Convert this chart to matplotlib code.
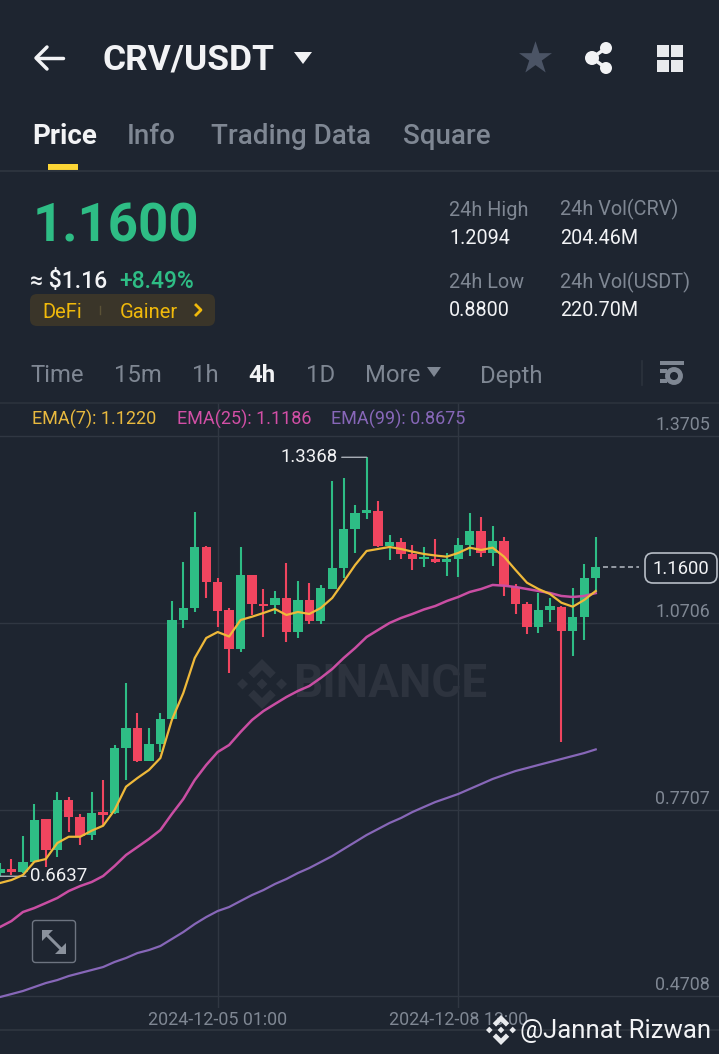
import matplotlib
matplotlib.use('Agg')
import matplotlib.pyplot as plt
from matplotlib.patches import Polygon, Rectangle, FancyBboxPatch, Circle

plt.rcParams['font.family'] = ['Roboto', 'DejaVu Sans']

# candles, 4h each
open_ = [0.6689, 0.6749, 0.6701, 0.6871, 0.7552, 0.7059, 0.7862, 0.7594, 0.7300, 0.7670,
         0.7658, 0.8703, 0.9019, 0.8489, 0.8762, 0.9164, 1.0754, 1.0952, 1.1932, 1.1370,
         1.0915, 1.0283, 1.1477, 1.1000, 1.0995, 1.1108, 1.0561, 1.1076, 1.0738, 1.1257,
         1.1590, 1.2216, 1.2478, 1.2505, 1.1943, 1.2007, 1.1815, 1.1734, 1.1734, 1.1691,
         1.1734, 1.1959, 1.2184, 1.1831, 1.2028, 1.1289, 1.1011, 1.0642, 1.0920, 1.0968,
         1.0582, 1.0802, 1.1429]
close = [0.6754, 0.6706, 0.6871, 0.7541, 0.7059, 0.7862, 0.7594, 0.7289, 0.7658, 0.7626,
         0.8703, 0.9019, 0.8489, 0.8762, 0.9164, 1.0754, 1.0952, 1.1932, 1.1370, 1.0904,
         1.0283, 1.1477, 1.1011, 1.0979, 1.1108, 1.0561, 1.1076, 1.0738, 1.1268, 1.1590,
         1.2216, 1.2473, 1.2510, 1.1948, 1.2007, 1.1815, 1.1734, 1.1766, 1.1681, 1.1734,
         1.1959, 1.2184, 1.1831, 1.2023, 1.1317, 1.1011, 1.0647, 1.0920, 1.0979, 1.0577,
         1.0802, 1.1429, 1.1600]
high = [0.6850, 0.6914, 0.7284, 0.7798, 0.7557, 0.7991, 0.7911, 0.7637, 0.7991, 0.8184,
        0.8746, 0.9742, 0.9260, 0.9019, 0.9260, 1.1059, 1.1691, 1.2489, 1.1943, 1.1429,
        1.0947, 1.1927, 1.1477, 1.1252, 1.1225, 1.1675, 1.1386, 1.1349, 1.1321, 1.2992,
        1.3040, 1.2602, 1.3368, 1.2671, 1.2125, 1.2072, 1.1959, 1.1927, 1.2048, 1.1835,
        1.2072, 1.2473, 1.2409, 1.2264, 1.2088, 1.1333, 1.1048, 1.1193, 1.1108, 1.0979,
        1.1268, 1.1654, 1.2088]
low = [0.6637, 0.6657, 0.6689, 0.6866, 0.6786, 0.6947, 0.7348, 0.7139, 0.7220, 0.7461,
       0.7637, 0.8184, 0.8473, 0.8489, 0.8633, 0.9164, 1.0626, 1.0883, 1.1108, 1.0642,
       0.9903, 1.0240, 1.0835, 1.0481, 1.0851, 1.0406, 1.0465, 1.0690, 1.0690, 1.1257,
       1.1429, 1.1831, 1.2377, 1.1927, 1.1718, 1.1734, 1.1557, 1.1611, 1.1662, 1.1466,
       1.1445, 1.1782, 1.1766, 1.1627, 1.1145, 1.0851, 1.0529, 1.0545, 1.0722, 0.8800,
       1.0181, 1.0433, 1.1209]

ema7 = [0.6529, 0.6577, 0.6657, 0.6871, 0.6914, 0.7171, 0.7272, 0.7272, 0.7369, 0.7449,
        0.7701, 0.8076, 0.8216, 0.8344, 0.8537, 0.9148, 0.9581, 1.0144, 1.0465, 1.0561,
        1.0489, 1.0754, 1.0807, 1.0867, 1.0931, 1.0835, 1.0883, 1.0851, 1.0947, 1.1108,
        1.1370, 1.1638, 1.1863, 1.1895, 1.1927, 1.1895, 1.1852, 1.1815, 1.1790, 1.1771,
        1.1831, 1.1916, 1.1879, 1.1916, 1.1771, 1.1558, 1.1353, 1.1252, 1.1172, 1.1032,
        1.0968, 1.1076, 1.1220]
ema25 = [0.5822, 0.5918, 0.6063, 0.6127, 0.6207, 0.6288, 0.6400, 0.6480, 0.6545, 0.6641,
         0.6802, 0.6979, 0.7107, 0.7236, 0.7380, 0.7637, 0.7878, 0.8184, 0.8425, 0.8633,
         0.8746, 0.8955, 0.9148, 0.9292, 0.9405, 0.9517, 0.9614, 0.9694, 0.9823, 0.9967,
         1.0144, 1.0304, 1.0481, 1.0594, 1.0706, 1.0786, 1.0851, 1.0923, 1.0979, 1.1059,
         1.1124, 1.1204, 1.1252, 1.1317, 1.1305, 1.1284, 1.1252, 1.1220, 1.1188, 1.1140,
         1.1124, 1.1140, 1.1186]
ema99 = [0.4697, 0.4745, 0.4794, 0.4858, 0.4922, 0.4970, 0.5035, 0.5083, 0.5131, 0.5179,
         0.5260, 0.5324, 0.5404, 0.5452, 0.5517, 0.5629, 0.5741, 0.5870, 0.5982, 0.6079,
         0.6143, 0.6240, 0.6336, 0.6416, 0.6513, 0.6593, 0.6689, 0.6770, 0.6866, 0.6962,
         0.7075, 0.7187, 0.7300, 0.7396, 0.7493, 0.7573, 0.7669, 0.7750, 0.7830, 0.7894,
         0.7959, 0.8039, 0.8119, 0.8200, 0.8264, 0.8328, 0.8376, 0.8425, 0.8473, 0.8521,
         0.8569, 0.8617, 0.8675]

price_ticks = [1.3705, 1.0706, 0.7707, 0.4708]
date_ticks = [19, 40]
date_labels = ['2024-12-05 01:00', '2024-12-08 13:00']

BG = '#1e2530'
GRID = '#303742'
LINE = '#2c333d'
GREEN = '#2ebd85'
RED = '#f0455f'
YELLOW = '#f0b90b'
GREY = '#7f8793'
WHITE = '#f2f3f5'

W, H = 719, 1054
fig = plt.figure(figsize=(W / 100, H / 100), dpi=100, facecolor=BG)

# chart part, pixel rows 403..1008 of the screenshot
ax = fig.add_axes([0, (H - 1008) / H, 1, (1008 - 403) / H], facecolor='none')
ax.set_xlim(0, W / 11.456)
ax.set_ylim(0.4521, 1.4240)
for s in ax.spines.values():
    s.set_visible(False)
ax.set_yticks(price_ticks)
ax.set_yticklabels([])
ax.set_xticks(date_ticks)
ax.set_xticklabels(date_labels, color=GREY, fontsize=12.9)
ax.tick_params(length=0)
ax.tick_params(axis='x', pad=2.5)
ax.grid(True, color=GRID, lw=1, zorder=0)
ax.set_axisbelow(True)

for t in price_ticks:
    ax.annotate(f'{t:.4f}', xy=(1, t), xycoords=('axes fraction', 'data'),
                xytext=(-9, 11), textcoords='offset pixels', ha='right', va='center',
                color=GREY, fontsize=12.9)

x = list(range(len(open_)))
colors = [GREEN if c >= o else RED for o, c in zip(open_, close)]
ax.vlines(x, low, high, colors=colors, lw=1.5, zorder=3)
heights = [max(abs(c - o), 0.004) for o, c in zip(open_, close)]
bottoms = [min(o, c) for o, c in zip(open_, close)]
ax.bar(x, heights, bottom=bottoms, width=0.82, color=colors, zorder=3)

ax.plot(x, ema99, color='#8767b8', lw=1.6, zorder=4)
ax.plot(x, ema25, color='#c94ea3', lw=1.8, zorder=4)
ax.plot(x, ema7, color='#efb93a', lw=1.6, zorder=5)

# high / low markers
ax.annotate('1.3368', xy=(32, high[32]), xytext=(-29, 0), textcoords='offset pixels',
            ha='right', va='center', color=WHITE, fontsize=13.4,
            arrowprops=dict(arrowstyle='-', color='#aab0b8', lw=1, shrinkA=1, shrinkB=0))
ax.annotate('0.6637', xy=(0, low[0]), xytext=(30, 0), textcoords='offset pixels',
            ha='left', va='center', color=WHITE, fontsize=13.4,
            arrowprops=dict(arrowstyle='-', color='#aab0b8', lw=1, shrinkA=1, shrinkB=0))

# current price
ax.plot([52.6, 55.8], [close[-1], close[-1]], color='#aab0b8', lw=1.2, ls=(0, (3, 2)), zorder=2)

# overlay in screenshot pixels for everything around the chart
ui = fig.add_axes([0, 0, 1, 1], facecolor='none', zorder=3)
ui.set_xlim(0, W)
ui.set_ylim(H, 0)
ui.axis('off')


def label(px, py, s, color=WHITE, size=13.5, weight='normal', ha='left'):
    # va=center sits a little high for digits and caps
    ui.text(px, py + 2, s, color=color, fontsize=size, fontweight=weight, ha=ha, va='center')


def logo(cx, cy, r, color, zorder=1):
    chevron = [(0, -1), (.55, -.45), (.33, -.23), (0, -.56), (-.33, -.23), (-.55, -.45)]
    ui.add_patch(Polygon([(cx + a * r, cy + b * r) for a, b in chevron], color=color, lw=0, zorder=zorder))
    ui.add_patch(Polygon([(cx + a * r, cy - b * r) for a, b in chevron], color=color, lw=0, zorder=zorder))
    for ox in (-.78, 0, .78):
        diamond = [(ox, -.22), (ox + .22, 0), (ox, .22), (ox - .22, 0)]
        ui.add_patch(Polygon([(cx + a * r, cy + b * r) for a, b in diamond], color=color, lw=0, zorder=zorder))


# header
ui.plot([37, 63], [58, 58], color=WHITE, lw=2.5, solid_capstyle='round')
ui.plot([47, 36, 47], [47, 58, 69], color=WHITE, lw=2.5, solid_capstyle='round', solid_joinstyle='round')
label(103, 58, 'CRV/USDT', size=25.5, weight='bold')
ui.add_patch(Polygon([(294, 52), (312, 52), (303, 64)], color=WHITE, lw=0))
ui.scatter([535], [58], marker='*', s=620, color='#4b5465', lw=0)
ui.plot([606, 592, 606], [48, 58, 68], color=WHITE, lw=2.5)
for cx, cy, r in [(606, 48, 6), (592, 58, 7), (606, 68, 6)]:
    ui.add_patch(Circle((cx, cy), r, color=WHITE, lw=0))
for rx, ry in [(657, 45), (671, 45), (657, 60), (671, 60)]:
    ui.add_patch(Rectangle((rx, ry), 12, 12, color='#e8eaed', lw=0))

# tabs
label(32, 134, 'Price', size=20, weight='bold')
label(127, 134, 'Info', GREY, 20, 'medium')
label(211, 134, 'Trading Data', GREY, 20, 'medium')
label(403, 134, 'Square', GREY, 20, 'medium')
ui.add_patch(Rectangle((48, 164), 30, 6, color='#fcd535', lw=0))
ui.plot([0, W], [171, 171], color=LINE, lw=1.5)

# price block
label(33, 225, '1.1600', GREEN, 38, 'bold')
label(30, 279, '≈ $1.16', WHITE, 16.5, 'medium')
label(119, 279, '+8.49%', GREEN, 16.5, 'medium')
ui.add_patch(FancyBboxPatch((33, 297), 179, 26, boxstyle='round,pad=3,rounding_size=7', fc='#3a3529', ec='none'))
label(42, 310, 'DeFi', YELLOW, 14.5)
ui.plot([100, 100], [306, 314], color='#5b5236', lw=1)
label(120, 310, 'Gainer', YELLOW, 14.5)
ui.plot([196, 201, 196], [305, 310, 315], color=YELLOW, lw=2)

label(449, 209, '24h High', GREY, 14.3)
label(449, 237, '1.2094', WHITE, 14.2)
label(449, 281, '24h Low', GREY, 14.3)
label(449, 309, '0.8800', WHITE, 14.2)
label(560, 207, '24h Vol(CRV)', GREY, 14.3)
label(560, 236, '204.46M', WHITE, 14.2)
label(560, 280, '24h Vol(USDT)', GREY, 14.3)
label(560, 308, '220.70M', WHITE, 14.2)

# interval row
label(30, 374, 'Time', GREY, 17.2)
label(114, 374, '15m', GREY, 17.2)
label(192, 374, '1h', GREY, 17.2)
label(248, 374, '4h', WHITE, 17.2, 'bold')
label(306, 374, '1D', GREY, 17.2)
label(365, 374, 'More', GREY, 17.2)
ui.add_patch(Polygon([(427, 367), (441, 367), (434, 377)], color=GREY, lw=0))
label(480, 374, 'Depth', GREY, 17.2)
ui.plot([642, 642], [361, 385], color=LINE, lw=1.2)
ui.add_patch(Rectangle((660, 361), 24, 3.5, color=GREY, lw=0))
ui.add_patch(Rectangle((660, 369), 7, 3.5, color=GREY, lw=0))
ui.add_patch(Rectangle((660, 379), 7, 3.5, color=GREY, lw=0))
ui.add_patch(Circle((674, 376), 6.5, fc='none', ec=GREY, lw=3.5))
ui.plot([0, W], [403, 403], color=LINE, lw=1.2)

# ema legend
label(32, 417, 'EMA(7): 1.1220', '#e8b93f', 13)
label(177, 417, 'EMA(25): 1.1186', '#d24fa6', 13)
label(331, 417, 'EMA(99): 0.8675', '#8767b8', 13)

# watermark
logo(262, 684, 25, '#2d333e', zorder=0.5)
ax.text(390 / 11.456, 0.9726, 'BINANCE', color='#2d333e', fontsize=33, fontweight='bold',
        ha='center', va='center', zorder=1)

# last price tag
ui.add_patch(FancyBboxPatch((648, 556), 66, 24, boxstyle='round,pad=3,rounding_size=8',
                            fc=BG, ec='#b7bdc6', lw=1.2))
label(681, 567, '1.1600', WHITE, 13.3, ha='center')

# expand button
ui.add_patch(FancyBboxPatch((33, 921), 42, 41, boxstyle='round,pad=0.5,rounding_size=3',
                            fc=BG, ec='#6d7480', lw=1))
ui.plot([46, 62], [934, 950], color='#8a919c', lw=2.2)
ui.add_patch(Polygon([(42, 930), (53, 930), (42, 941)], color='#8a919c', lw=0))
ui.add_patch(Polygon([(66, 954), (55, 954), (66, 943)], color='#8a919c', lw=0))

# bottom
ui.plot([0, W], [1029.5, 1029.5], color=LINE, lw=1.5)
logo(501, 1030, 15, '#e8eaed', zorder=6)
ui.text(520, 1031, '@Jannat Rizwan', color=WHITE, fontsize=18.5, va='center', ha='left', zorder=6)

fig.savefig('out.png', dpi=100, facecolor=BG)
